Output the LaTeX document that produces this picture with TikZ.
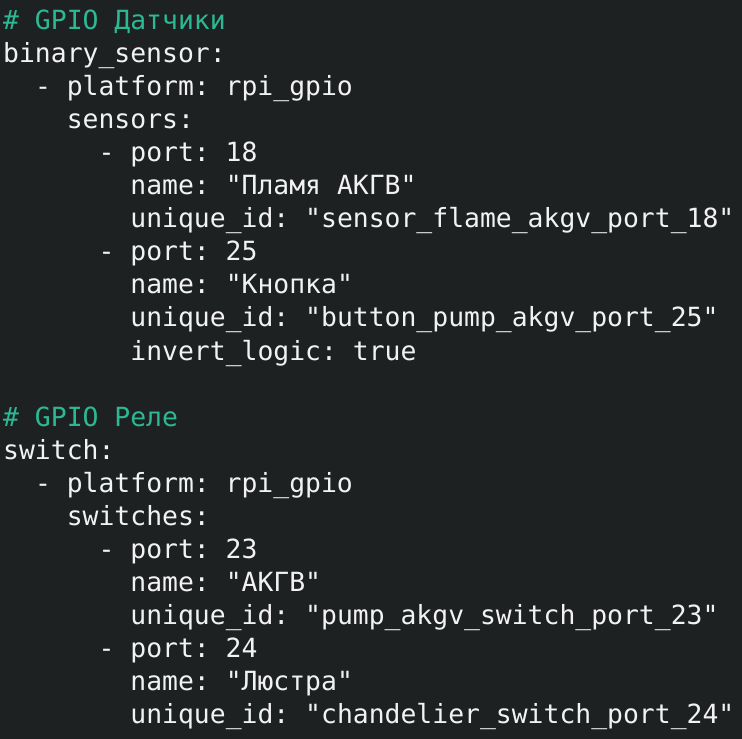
\documentclass[tikz,border=0pt]{standalone}
\usepackage{fontspec}
\setmonofont{DejaVu Sans Mono}
\definecolor{bg}{HTML}{1E2122}
\definecolor{fg}{HTML}{F2F2F2}
\definecolor{cm}{HTML}{2DB894}
\begin{document}
\begin{tikzpicture}[x=1pt,y=1pt,
  ln/.style={anchor=base west,inner sep=0pt,text=fg,font=\fontsize{26.4}{26.4}\ttfamily},
  cmt/.style={ln,text=cm}]
\fill[bg] (0,0) rectangle (742,-739);
\useasboundingbox (0,0) rectangle (742,-739);
\def\cw{15.9}
\def\lh{33.05}
\node[cmt] (l1) at (3+0*\cw,-29.5-0*\lh) {\# GPIO Датчики};
\node[ln] (l2) at (3+0*\cw,-29.5-1*\lh) {binary\_sensor:};
\node[ln] (l3) at (3+2*\cw,-29.5-2*\lh) {- platform: rpi\_gpio};
\node[ln] (l4) at (3+4*\cw,-29.5-3*\lh) {sensors:};
\node[ln] (l5) at (3+6*\cw,-29.5-4*\lh) {- port: 18};
\node[ln] (l6) at (3+8*\cw,-29.5-5*\lh) {name: "Пламя АКГВ"};
\node[ln] (l7) at (3+8*\cw,-29.5-6*\lh) {unique\_id: "sensor\_flame\_akgv\_port\_18"};
\node[ln] (l8) at (3+6*\cw,-29.5-7*\lh) {- port: 25};
\node[ln] (l9) at (3+8*\cw,-29.5-8*\lh) {name: "Кнопка"};
\node[ln] (l10) at (3+8*\cw,-29.5-9*\lh) {unique\_id: "button\_pump\_akgv\_port\_25"};
\node[ln] (l11) at (3+8*\cw,-29.5-10*\lh) {invert\_logic: true};
\node[cmt] (l13) at (3+0*\cw,-29.5-12*\lh) {\# GPIO Реле};
\node[ln] (l14) at (3+0*\cw,-29.5-13*\lh) {switch:};
\node[ln] (l15) at (3+2*\cw,-29.5-14*\lh) {- platform: rpi\_gpio};
\node[ln] (l16) at (3+4*\cw,-29.5-15*\lh) {switches:};
\node[ln] (l17) at (3+6*\cw,-29.5-16*\lh) {- port: 23};
\node[ln] (l18) at (3+8*\cw,-29.5-17*\lh) {name: "АКГВ"};
\node[ln] (l19) at (3+8*\cw,-29.5-18*\lh) {unique\_id: "pump\_akgv\_switch\_port\_23"};
\node[ln] (l20) at (3+6*\cw,-29.5-19*\lh) {- port: 24};
\node[ln] (l21) at (3+8*\cw,-29.5-20*\lh) {name: "Люстра"};
\node[ln] (l22) at (3+8*\cw,-29.5-21*\lh) {unique\_id: "chandelier\_switch\_port\_24"};
\end{tikzpicture}
\end{document}
